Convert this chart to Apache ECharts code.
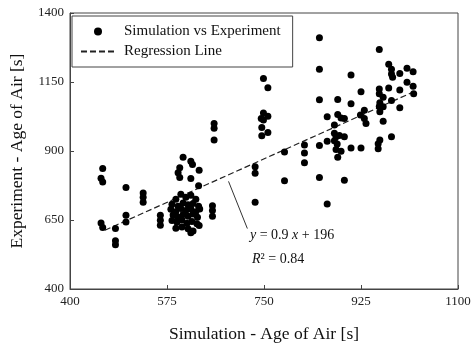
<!DOCTYPE html>
<html>
<head>
<meta charset="utf-8">
<script src="https://cdn.jsdelivr.net/npm/echarts@6/dist/echarts.min.js"></script>
<style>
html,body{margin:0;padding:0;background:#fff;}
#chart{width:474px;height:348px;}
</style>
</head>
<body>
<div id="chart"></div>
<script>
// Tick labels
const xTicks = [400, 575, 750, 925, 1100];
const yTicks = [400, 650, 900, 1150, 1400];

// Simulation vs Experiment
const simulation = [
  459,456,459,456,459,482,482,482,501,501,501,532,532,532,563,563,563,
  604,618,621,598,595,598,633,618,632,
  591,600,609,618,627,584,595,604,613,622,632,582,591,600,609,618,627,634,
  586,595,604,613,622,630,584,593,602,611,620,629,591,602,613,622,633,618,
  657,657,657,660,660,660,
  734,734,734,749,757,749,757,745,749,746,757,746,787,787,823,823,823,
  850,850,850,850,850,864,864,864,883,883,889,895,877,877,880,886,895,877,882,880,889,883,895,
  907,907,907,925,924,931,931,934,925,958,958,958,958,959,956,956,
  975,980,980,982,995,1008,1019,1008,1019,1020,975,995,965,959,965,959,980,995,965,980
];
const experiment = [
  837,801,788,639,623,619,575,560,768,667,643,748,732,714,667,649,631,
  877,863,851,839,821,804,830,800,774,
  725,743,732,740,725,707,700,712,705,710,700,689,680,692,684,690,680,690,
  668,660,670,664,672,660,648,642,650,638,645,636,620,625,618,610,630,604,
  702,684,664,1000,982,940,
  843,819,714,1163,1129,1038,1026,1018,1012,985,967,955,896,792,922,893,857,
  1310,1196,1086,920,804,1024,935,708,1087,1032,1020,1018,994,964,952,956,952,937,925,905,899,877,794,
  1175,1071,911,1115,1030,1048,1018,1000,911,1268,1125,1107,1061,940,926,908,
  1214,1196,1179,1167,1181,1200,1187,1149,1135,1107,1128,1121,1095,1075,1060,1042,1083,1057,1008,952
];

// Regression line end points (y = 0.9 x + 196)
const regressionX = [463, 1015];
const regressionY = [613, 1110];

// Annotation arrow (tail -> head)
const arrowFrom = [720, 619];
const arrowTo = [686, 790];

const FONT = "'Liberation Serif','Times New Roman',serif";

const chart = echarts.init(document.getElementById('chart'), null, {renderer: 'canvas'});
chart.setOption({
  animation: false,
  backgroundColor: '#fff',
  textStyle: {fontFamily: FONT},
  grid: {left: 66, right: 16, top: 13, bottom: 55, show: true, borderColor: '#444', borderWidth: 1, containLabel: false},
  legend: {
    left: 72, top: 16, orient: 'vertical',
    borderColor: '#444', borderWidth: 1, borderRadius: 0,
    padding: [8, 12, 8, 8],
    itemWidth: 34, itemHeight: 8, itemGap: 5,
    textStyle: {fontFamily: FONT, fontSize: 15, color: '#111', padding: [0, 0, 0, 4]},
    data: [
      {name: 'Simulation vs Experiment', icon: 'circle', itemStyle: {opacity: 1}},
      {name: 'Regression Line', itemStyle: {opacity: 0}}
    ]
  },
  xAxis: {
    type: 'value', min: xTicks[0], max: xTicks[xTicks.length - 1],
    name: 'Simulation - Age of Air [s]', nameLocation: 'middle', nameGap: 36,
    nameTextStyle: {fontFamily: FONT, fontSize: 17.5, color: '#111'},
    axisLine: {show: true, lineStyle: {color: '#444', width: 1}},
    axisTick: {show: true, inside: true, length: 4, lineStyle: {color: '#444'}, customValues: xTicks},
    axisLabel: {fontFamily: FONT, fontSize: 13, color: '#222', margin: 6, customValues: xTicks, formatter: v => String(v)},
    splitLine: {show: false}
  },
  yAxis: {
    type: 'value', min: yTicks[0], max: yTicks[yTicks.length - 1],
    name: 'Experiment - Age of Air [s]', nameLocation: 'middle', nameGap: 44,
    nameTextStyle: {fontFamily: FONT, fontSize: 17.5, color: '#111'},
    axisLine: {show: true, lineStyle: {color: '#444', width: 1}},
    axisTick: {show: true, inside: true, length: 4, lineStyle: {color: '#444'}, customValues: yTicks},
    axisLabel: {fontFamily: FONT, fontSize: 13, color: '#222', margin: 6, customValues: yTicks, formatter: v => String(v)},
    splitLine: {show: false}
  },
  series: [
    {
      name: 'Simulation vs Experiment', type: 'scatter',
      symbol: 'circle', symbolSize: 7,
      itemStyle: {color: '#000', opacity: 1},
      data: simulation.map((x, i) => [x, experiment[i]]),
      z: 3
    },
    {
      name: 'Regression Line', type: 'line',
      symbol: 'none',
      lineStyle: {color: '#222', width: 1.2, type: [6, 3]},
      itemStyle: {color: '#222'},
      data: regressionX.map((x, i) => [x, regressionY[i]]),
      markLine: {
        silent: true, animation: false,
        symbol: ['none', 'arrow'], symbolSize: [0, 8],
        lineStyle: {color: '#333', width: 1, type: 'solid'},
        label: {show: false},
        data: [[{coord: arrowFrom}, {coord: arrowTo}]]
      },
      z: 2
    }
  ],
  graphic: [
    {
      type: 'text', left: 250, top: 228,
      style: {
        text: '{i|y} = 0.9 {i|x} + 196',
        fontFamily: FONT, fontSize: 14, fill: '#111',
        rich: {i: {fontStyle: 'italic', fontFamily: FONT, fontSize: 14}}
      }
    },
    {
      type: 'text', left: 252, top: 252,
      style: {
        text: '{i|R}² = 0.84',
        fontFamily: FONT, fontSize: 14, fill: '#111',
        rich: {i: {fontStyle: 'italic', fontFamily: FONT, fontSize: 14}}
      }
    }
  ]
});
</script>
</body>
</html>
